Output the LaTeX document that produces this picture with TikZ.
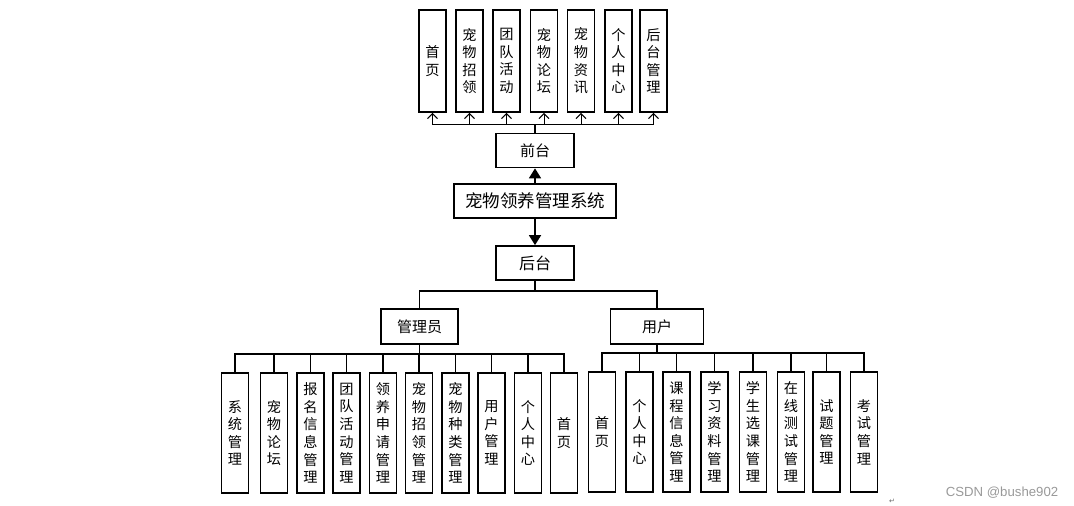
\documentclass[tikz,border=0pt]{standalone}
\usepackage{fontspec}
\newfontfamily\cjk{Noto Sans CJK SC}
\newfontfamily\wmfont{Liberation Sans}
\newfontfamily\symfont{DejaVu Sans}
\usetikzlibrary{arrows.meta}
\begin{document}
\begin{tikzpicture}[x=1pt,y=-1pt,
  box/.style={draw,line width=1.7pt,inner sep=0pt,fill=white},
  vbox/.style={box,minimum width=27pt,align=center,font=\cjk\fontsize{14.2}{17.6}\selectfont},
  hbox/.style={box,minimum height=34pt,font=\cjk\fontsize{15}{16}\selectfont},
  conn/.style={line width=1.3pt},
  upar/.style={line width=1pt,-{Straight Barb[length=5pt,width=10pt,line width=1pt]}},
  bigar/.style={line width=1.6pt,-{Triangle[length=10pt,width=12pt]}}]
\useasboundingbox (0,0) rectangle (1074,506);
% top level
\node[hbox,minimum width=78pt] (qt) at (535,150.5) {前台};
\node[hbox,minimum width=162pt,font=\cjk\fontsize{17.5}{18}\selectfont] (sys) at (535,201) {宠物领养管理系统};
\node[hbox,minimum width=78pt,font=\cjk\fontsize{16}{17}\selectfont] (ht) at (535,263) {后台};
\node[hbox,minimum width=77pt,minimum height=35pt] (gly) at (419.5,326.5) {管理员};
\node[hbox,minimum width=93pt,minimum height=35pt] (yh) at (657,326.5) {用户};
\draw[bigar] (sys.north) -- (qt.south);
\draw[bigar] (sys.south) -- (ht.north);
% front children
\foreach \n/\x/\t in {t1/432.5/首\\页, t2/469.5/宠\\物\\招\\领, t3/506.5/团\\队\\活\\动, t4/544/宠\\物\\论\\坛, t5/581/宠\\物\\资\\讯, t6/618.5/个\\人\\中\\心, t7/653.5/后\\台\\管\\理}
  \node[vbox,minimum height=102pt] (\n) at (\x,61) {\t};
\coordinate (tj) at (535,124);
\draw[line width=1.8pt] (qt.north) -- (tj);
\foreach \n in {t1,t2,t3,t4,t5,t6,t7}
  \draw[upar] (tj) -| (\n.south);
% back
\coordinate (hj) at (535,291);
\draw[conn] (ht.south) -- (hj);
\draw[conn] (hj) -| (gly.north);
\draw[conn] (hj) -| (yh.north);
% admin children
\foreach \n/\x/\t in {a1/235/系\\统\\管\\理, a2/274/宠\\物\\论\\坛, a3/310.5/报\\名\\信\\息\\管\\理, a4/346.5/团\\队\\活\\动\\管\\理, a5/383/领\\养\\申\\请\\管\\理, a6/419/宠\\物\\招\\领\\管\\理, a7/455.5/宠\\物\\种\\类\\管\\理, a8/491.5/用\\户\\管\\理, a9/528/个\\人\\中\\心, a10/564/首\\页}
  \node[vbox,minimum height=120pt] (\n) at (\x,433) {\t};
\coordinate (aj) at (419.5,354);
\draw[conn] (gly.south) -- (aj);
\foreach \n in {a1,a2,a3,a4,a5,a6,a7,a8,a9,a10}
  \draw[conn] (aj) -| (\n.north);
% user children
\foreach \n/\x/\t in {u1/602/首\\页, u2/639.5/个\\人\\中\\心, u3/676.5/课\\程\\信\\息\\管\\理, u4/714.5/学\\习\\资\\料\\管\\理, u5/753/学\\生\\选\\课\\管\\理, u6/791/在\\线\\测\\试\\管\\理, u7/826.5/试\\题\\管\\理, u8/864/考\\试\\管\\理}
  \node[vbox,minimum height=120pt] (\n) at (\x,432) {\t};
\coordinate (uj) at (657,353);
\draw[conn] (yh.south) -- (uj);
\foreach \n in {u1,u2,u3,u4,u5,u6,u7,u8}
  \draw[conn] (uj) -| (\n.north);
% watermark
\node[font=\wmfont\fontsize{13.2}{15}\selectfont,text=black!40] (wm) at (1002,492.5) {CSDN @bushe902};
\node[font=\symfont\fontsize{7}{8}\selectfont,text=black!60] (ret) at (892,501) {↵};
\end{tikzpicture}
\end{document}
